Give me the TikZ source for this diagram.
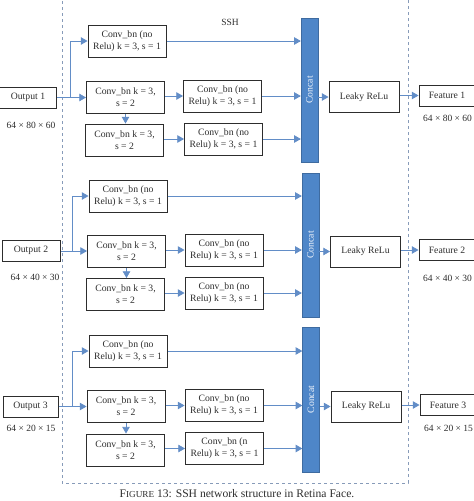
\documentclass[tikz,border=0pt]{standalone}
\usepackage{fontspec}
\setmainfont{Liberation Serif}
\usetikzlibrary{arrows,positioning}

\definecolor{linkblue}{RGB}{98,141,199}
\definecolor{concatblue}{RGB}{78,134,200}
\definecolor{boxgray}{RGB}{45,45,45}
\definecolor{dashgray}{RGB}{135,155,185}

\begin{document}
\begin{tikzpicture}[x=1pt,y=-1pt]

  \useasboundingbox (0,0) rectangle (474,501);

  \coordinate (SSHtop) at (62,-5);
  \coordinate (SSHbot) at (408,483);

  \coordinate (Output1) at (28,97.5);
  \coordinate (Branch1) at (70,97.5);
  \coordinate (A1) at (127,41);
  \coordinate (B1) at (125.5,97.5);
  \coordinate (C1) at (124.5,140);
  \coordinate (D1) at (222.5,96);
  \coordinate (E1) at (223.5,139);
  \coordinate (Cat1) at (309.5,90);
  \coordinate (Relu1) at (364,97);
  \coordinate (Feat1) at (447,95.5);

  \coordinate (Output2) at (31,250.5);
  \coordinate (Branch2) at (72,251);
  \coordinate (A2) at (128,196);
  \coordinate (B2) at (126.5,251.5);
  \coordinate (C2) at (125.5,294.5);
  \coordinate (D2) at (224,250);
  \coordinate (E2) at (224,293);
  \coordinate (Cat2) at (310.5,245);
  \coordinate (Relu2) at (365.5,251.5);
  \coordinate (Feat2) at (447,250);

  \coordinate (Output3) at (30.5,406.5);
  \coordinate (Branch3) at (72,406.5);
  \coordinate (A3) at (128,351);
  \coordinate (B3) at (126,406.5);
  \coordinate (C3) at (125.5,450);
  \coordinate (D3) at (224,405.5);
  \coordinate (E3) at (224.5,448.5);
  \coordinate (Cat3) at (311,399.5);
  \coordinate (Relu3) at (366,406.5);
  \coordinate (Feat3) at (448,405);

  \tikzstyle{cbox}=[draw=boxgray,line width=1pt,
                    shape=rectangle,inner sep=2pt,
                    minimum width=78pt,minimum height=32pt,
                    align=center,text=boxgray,
                    font=\fontsize{9.7}{11.7}\selectfont];
  \tikzstyle{iobox}=[cbox,minimum width=57pt,minimum height=21pt];
  \tikzstyle{catbar}=[draw=concatblue!80!black,fill=concatblue,
                      shape=rectangle,inner sep=0pt,
                      minimum width=17pt,minimum height=144pt,
                      text=white!92!concatblue,
                      font=\fontsize{9.7}{11.7}\selectfont];
  \tikzstyle{dimlabel}=[text=boxgray,inner sep=1pt,
                        font=\fontsize{9.5}{11.5}\selectfont];
  \tikzstyle{link}=[->,>=triangle 60,line width=0.8pt,color=linkblue];

  \draw[dashgray,dashed,line width=0.8pt] (SSHtop) rectangle (SSHbot);
  \node[dimlabel] (SSHlabel) at (230,22) {SSH};

  % first level
  \node[iobox] (Out1) at (Output1) {Output 1};
  \node[dimlabel] (DimOut1) at (31,125) {64 × 80 × 60};
  \node[cbox] (ConvA1) at (A1) {Conv\_bn (no\\Relu) k = 3, s = 1};
  \node[cbox] (ConvB1) at (B1) {Conv\_bn k = 3,\\s = 2};
  \node[cbox] (ConvC1) at (C1) {Conv\_bn k = 3,\\s = 2};
  \node[cbox] (ConvD1) at (D1) {Conv\_bn (no\\Relu) k = 3, s = 1};
  \node[cbox] (ConvE1) at (E1) {Conv\_bn (no\\Relu) k = 3, s = 1};
  \node[catbar] (Concat1) at (Cat1) {\rotatebox{90}{Concat}};
  \node[cbox,minimum width=70pt,minimum height=31pt] (Leaky1) at (Relu1) {Leaky ReLu};
  \node[iobox,minimum width=56pt] (Feature1) at (Feat1) {Feature 1};
  \node[dimlabel,anchor=west] (DimFeat1) at (422,118) {64 × 80 × 60};

  \draw[link] (Out1.east) -- (ConvB1.west);
  \draw[link] (Branch1) |- (ConvA1.west);
  \draw[link] (ConvA1.east) -- (ConvA1.east -| Concat1.west);
  \draw[link] (ConvB1.east |- ConvD1.west) -- (ConvD1.west);
  \draw[link] (ConvB1.south) -- (ConvB1.south |- ConvC1.north);
  \draw[link] (ConvC1.east |- ConvE1.west) -- (ConvE1.west);
  \draw[link] (ConvD1.east) -- (ConvD1.east -| Concat1.west);
  \draw[link] (ConvE1.east) -- (ConvE1.east -| Concat1.west);
  \draw[link] (Concat1.east |- Leaky1.west) -- (Leaky1.west);
  \draw[link] (Leaky1.east |- Feature1.west) -- (Feature1.west);

  % second level
  \node[iobox,minimum width=58pt] (Out2) at (Output2) {Output 2};
  \node[dimlabel] (DimOut2) at (35,277) {64 × 40 × 30};
  \node[cbox] (ConvA2) at (A2) {Conv\_bn (no\\Relu) k = 3, s = 1};
  \node[cbox] (ConvB2) at (B2) {Conv\_bn k = 3,\\s = 2};
  \node[cbox] (ConvC2) at (C2) {Conv\_bn k = 3,\\s = 2};
  \node[cbox] (ConvD2) at (D2) {Conv\_bn (no\\Relu) k = 3, s = 1};
  \node[cbox] (ConvE2) at (E2) {Conv\_bn (no\\Relu) k = 3, s = 1};
  \node[catbar] (Concat2) at (Cat2) {\rotatebox{90}{Concat}};
  \node[cbox,minimum width=70pt,minimum height=31pt] (Leaky2) at (Relu2) {Leaky ReLu};
  \node[iobox,minimum width=56pt] (Feature2) at (Feat2) {Feature 2};
  \node[dimlabel,anchor=west] (DimFeat2) at (422,278) {64 × 40 × 30};

  \draw[link] (Out2.east |- Branch2) -- (ConvB2.west |- Branch2);
  \draw[link] (Branch2) |- (ConvA2.west);
  \draw[link] (ConvA2.east) -- (ConvA2.east -| Concat2.west);
  \draw[link] (ConvB2.east |- ConvD2.west) -- (ConvD2.west);
  \draw[link] (ConvB2.south) -- (ConvB2.south |- ConvC2.north);
  \draw[link] (ConvC2.east |- ConvE2.west) -- (ConvE2.west);
  \draw[link] (ConvD2.east) -- (ConvD2.east -| Concat2.west);
  \draw[link] (ConvE2.east) -- (ConvE2.east -| Concat2.west);
  \draw[link] (Concat2.east |- Leaky2.west) -- (Leaky2.west);
  \draw[link] (Leaky2.east |- Feature2.west) -- (Feature2.west);

  % third level
  \node[iobox,minimum width=55pt] (Out3) at (Output3) {Output 3};
  \node[dimlabel] (DimOut3) at (31,428) {64 × 20 × 15};
  \node[cbox] (ConvA3) at (A3) {Conv\_bn (no\\Relu) k = 3, s = 1};
  \node[cbox] (ConvB3) at (B3) {Conv\_bn k = 3,\\s = 2};
  \node[cbox] (ConvC3) at (C3) {Conv\_bn k = 3,\\s = 2};
  \node[cbox] (ConvD3) at (D3) {Conv\_bn (no\\Relu) k = 3, s = 1};
  \node[cbox] (ConvE3) at (E3) {Conv\_bn (n\\Relu) k = 3, s = 1};
  \node[catbar,minimum height=145pt] (Concat3) at (Cat3) {\rotatebox{90}{Concat}};
  \node[cbox,minimum width=70pt,minimum height=31pt] (Leaky3) at (Relu3) {Leaky ReLu};
  \node[iobox,minimum width=56pt] (Feature3) at (Feat3) {Feature 3};
  \node[dimlabel,anchor=west] (DimFeat3) at (423,428) {64 × 20 × 15};

  \draw[link] (Out3.east |- Branch3) -- (ConvB3.west |- Branch3);
  \draw[link] (Branch3) |- (ConvA3.west);
  \draw[link] (ConvA3.east) -- (ConvA3.east -| Concat3.west);
  \draw[link] (ConvB3.east |- ConvD3.west) -- (ConvD3.west);
  \draw[link] (ConvB3.south) -- (ConvB3.south |- ConvC3.north);
  \draw[link] (ConvC3.east |- ConvE3.west) -- (ConvE3.west);
  \draw[link] (ConvD3.east) -- (ConvD3.east -| Concat3.west);
  \draw[link] (ConvE3.east) -- (ConvE3.east -| Concat3.west);
  \draw[link] (Concat3.east |- Leaky3.west) -- (Leaky3.west);
  \draw[link] (Leaky3.east |- Feature3.west) -- (Feature3.west);

  \node[dimlabel,font=\fontsize{11.6}{13}\selectfont,anchor=base] (Caption) at (237,497.5)
       {F{\fontsize{9.2}{11}\selectfont IGURE} 13: SSH network structure in Retina Face.};

\end{tikzpicture}
\end{document}
